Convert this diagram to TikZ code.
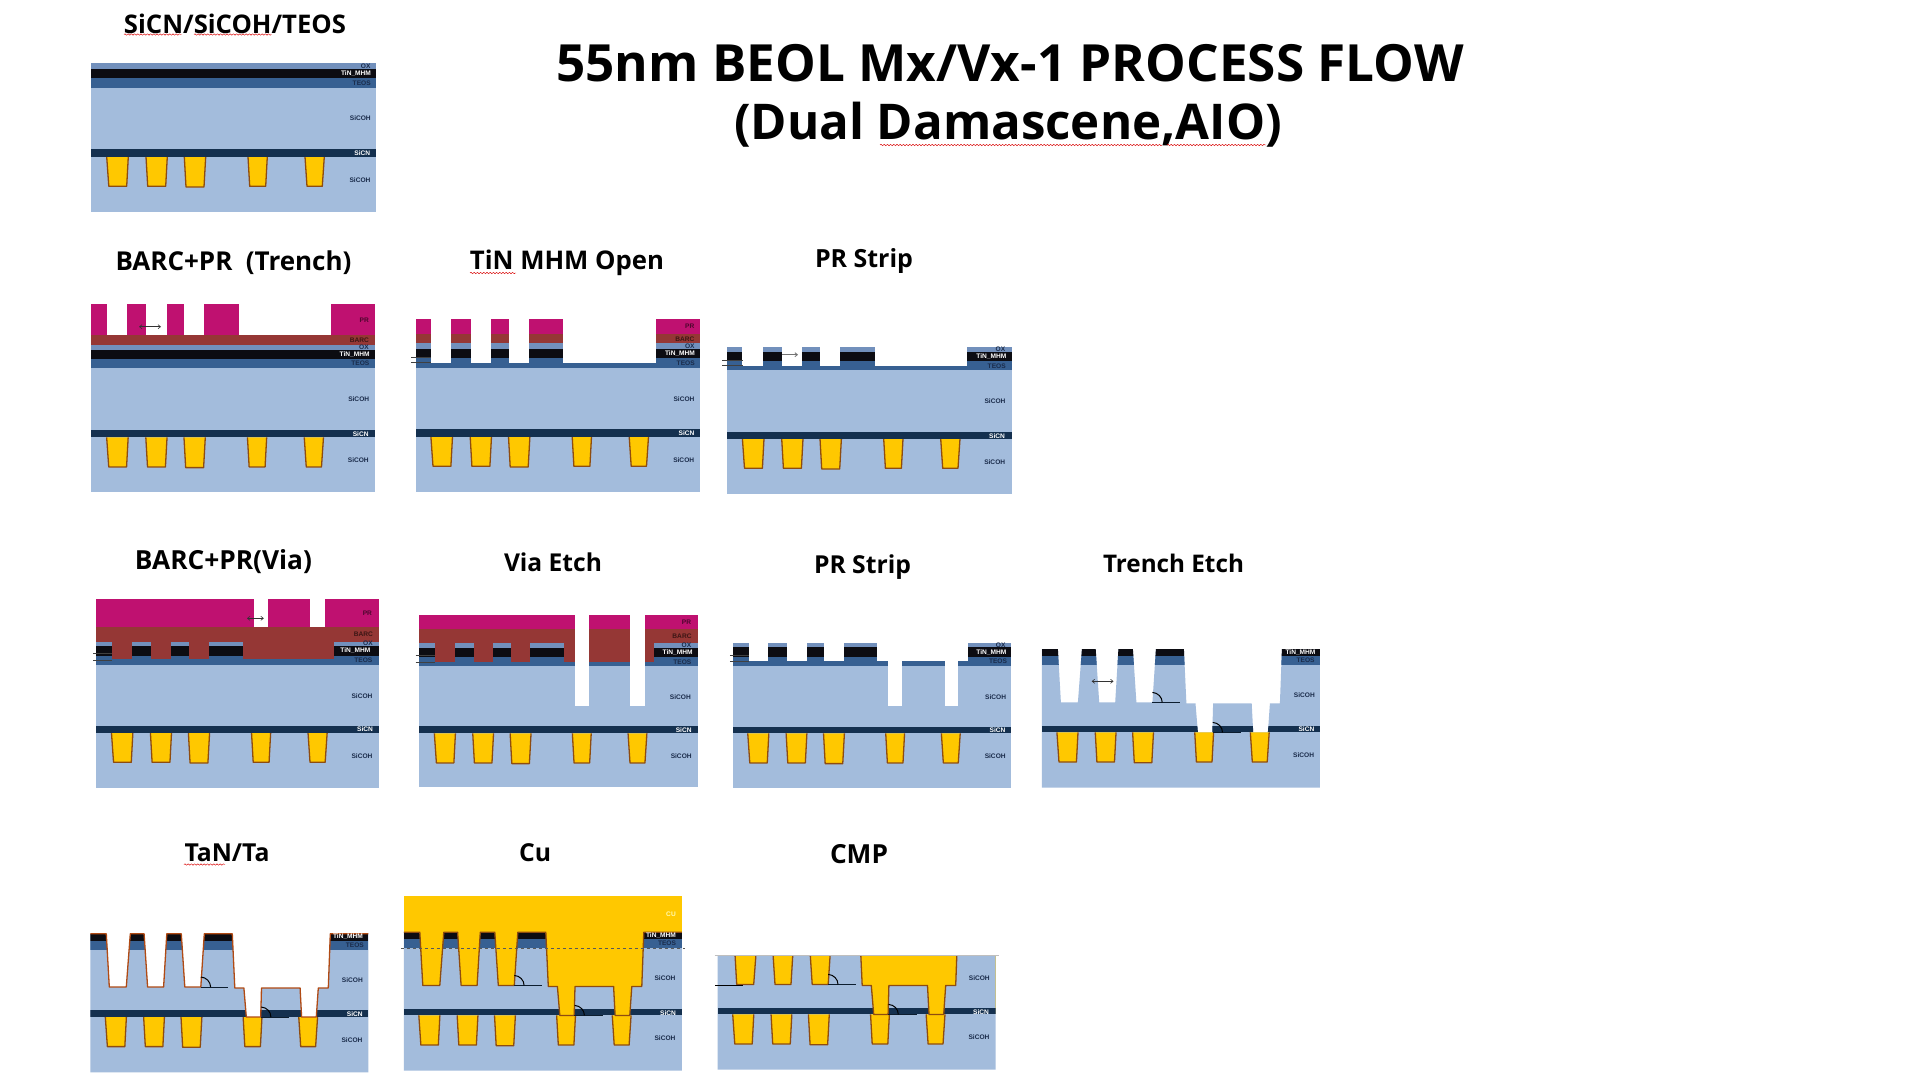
\documentclass[tikz,border=0pt]{standalone}
\usepackage{fontspec}
\setmainfont{Open Sans}[BoldFont={Open Sans Bold}]
\newfontfamily\lblfont{Liberation Sans}
\usetikzlibrary{decorations.pathmorphing,arrows.meta}
\definecolor{csicoh}{HTML}{A3BCDC}
\definecolor{csicn}{HTML}{14304F}
\definecolor{cteos}{HTML}{376092}
\definecolor{cox}{HTML}{7290BC}
\definecolor{ctin}{HTML}{0C0C12}
\definecolor{cpr}{HTML}{BF1170}
\definecolor{cbarc}{HTML}{953735}
\definecolor{ccu}{HTML}{FFC800}
\definecolor{cedge}{HTML}{8E4C10}
\definecolor{ctan}{HTML}{B04A14}
\definecolor{ctxt}{HTML}{1A2B4A}
\newcount\labn
\newcommand{\R}[5]{\fill[#1] (#2,#3) rectangle (#4,#5);}
\newcommand{\lab}[4]{\global\advance\labn by 1\node[lbl,text=#3] (lab\the\labn) at (#1,#2) {#4};}
\newcommand{\lsic}[2]{\lab{#1}{#2}{ctxt}{SiCOH}}
\newcommand{\lsin}[2]{\lab{#1}{#2}{white}{SiCN}}
\newcommand{\lteos}[2]{\lab{#1}{#2}{ctxt}{TEOS}}
\newcommand{\ltin}[2]{\lab{#1}{#2}{white}{TiN\_MHM}}
\newcommand{\lox}[2]{\lab{#1}{#2}{ctxt}{OX}}
\newcommand{\lpr}[2]{\lab{#1}{#2}{black!60!cpr}{PR}}
\newcommand{\lbarc}[2]{\lab{#1}{#2}{black!60!cbarc}{BARC}}
\newcommand{\ttl}[5]{\node[ttlnode] (#1) at (#2,#3) {\resizebox{#4pt}{!}{\bfseries #5}};}
\newcommand{\squig}[3]{\draw[squiggle] (#1,#3) -- (#2,#3);}
% five buried metal lines: x origin, y of the SiCN bottom, panel width
\newcommand{\onemetal}[5]{\filldraw[metal] (#1,0) -- (#3,#5) -- (#4,#5) -- (#2,0);}
\newcommand{\metals}[3]{\begin{scope}[shift={(#1,#2)},xscale=#3/285]
\onemetal{15.4}{37}{17.5}{35.4}{29.6}
\onemetal{54.7}{76}{56.4}{74.4}{29.6}
\onemetal{93}{114.4}{94.7}{112.7}{30.3}
\onemetal{156.7}{176}{158.4}{174.4}{29.6}
\onemetal{213.7}{233}{215.7}{231}{29.6}
\end{scope}}
% etched top profile shared by the last panels (local: y=0 is the SiCN top)
\newcommand{\prof}{(0,-76.5) -- (16,-76.5) -- (19,-23.3) -- (36,-23.3) -- (40,-76.5) -- (53.8,-76.5) -- (57.3,-23.3) -- (73.3,-23.3) -- (76.5,-76.5) -- (91,-76.5) -- (94.5,-23.3) -- (110.5,-23.3) -- (114,-76.5) -- (142,-76.5) -- (144.5,-22.3) -- (153.6,-22.3) -- (156,6.7) -- (170.4,6.7) -- (171.2,-22.3) -- (209.8,-22.3) -- (211.3,6.7) -- (226,6.7) -- (228,-22.3) -- (238,-22.3) -- (240,-76.5) -- (278,-76.5)}
\newcommand{\profbody}{%
\fill[csicoh] \prof -- (278,62) -- (0,62) -- cycle;
\metals{0}{6.7}{278}
\begin{scope}
\clip \prof -- (278,62) -- (0,62) -- cycle;
\R{ctin}{0}{-76.5}{278}{-69.7}
\R{cteos}{0}{-69.7}{278}{-60.7}
\R{csicn}{0}{0}{278}{6.7}
\end{scope}}
\newcommand{\angles}{%
\draw[mark line] (110.5,-23.3) -- (137.8,-23.3);
\draw[mark arc] (110.5,-33.3) .. controls (116,-33) and (120.3,-28.5) .. (120.3,-23.3);
\draw[mark line] (170.6,6.7) -- (199,6.7);
\draw[mark arc] (170.8,-3.3) .. controls (176.5,-3) and (180.6,1.5) .. (180.6,6.7);}
\tikzset{
 lbl/.style={font=\lblfont\bfseries\fontsize{6.6}{7}\selectfont,inner sep=0pt},
 ttlnode/.style={inner sep=0pt,text=black},
 squiggle/.style={draw=red!85!black,line width=.45pt,decorate,decoration={snake,amplitude=.7pt,segment length=3.2pt}},
 metal/.style={fill=ccu,draw=cedge,line width=1.3pt,line join=round},
 tick line/.style={draw=black!75,line width=.6pt},
 dim arrow/.style={draw=black!80,line width=.6pt,{Straight Barb[length=2.5pt,width=4pt]}-{Straight Barb[length=2.5pt,width=4pt]}},
 one arrow/.style={draw=black!55,line width=.8pt,-{Straight Barb[length=2.5pt,width=4pt]}},
 mark line/.style={draw=csicn!60!black,line width=1pt},
 mark arc/.style={draw=black,line width=1pt},
 tan line/.style={draw=ctan,line width=1.3pt,line join=round},
}
\begin{document}
\begin{tikzpicture}[x=1pt,y=-1pt]
\useasboundingbox (0,0) rectangle (1928,1079);
\fill[white] (0,0) rectangle (1928,1079);

% ---- titles
\ttl{tMain}{1010}{63}{907}{55nm BEOL Mx/Vx-1 PROCESS FLOW}
\ttl{tSub}{1008}{124.5}{548}{(Dual Damascene,AIO)}
\ttl{t1}{235}{24}{222}{SiCN/SiCOH/TEOS}
\ttl{t2}{233.5}{262.5}{236}{BARC+PR\ \ (Trench)}
\ttl{t3}{567}{263}{194}{TiN MHM Open}
\ttl{t4}{864}{261}{98}{PR Strip}
\ttl{t5}{223.5}{562}{177}{BARC+PR(Via)}
\ttl{t6}{553}{562}{98}{Via Etch}
\ttl{t7}{862.5}{567}{97}{PR Strip}
\ttl{t8}{1173.5}{563}{141}{Trench Etch}
\ttl{t9}{227}{852.5}{85}{TaN/Ta}
\ttl{t10}{535}{852.5}{32}{Cu}
\ttl{t11}{859}{854}{58}{CMP}
\squig{124}{181.7}{34.5}
\squig{194}{271.7}{34.5}
\squig{470}{516}{273}
\squig{880}{1162}{145}
\squig{1167}{1266}{145}
\squig{184}{225}{864.5}

\begin{scope}[shift={(0,1)}]
% ---- panel 1
\R{csicoh}{91.3}{86.7}{376}{210.7}
\metals{91.3}{155.7}{285}
\R{cox}{91.3}{62.2}{376}{67.7}
\R{ctin}{91.3}{67.7}{376}{77.3}
\R{cteos}{91.3}{77.3}{376}{86.7}
\R{csicn}{91.3}{148.3}{376}{155.7}
\lox{365.7}{65}\ltin{356}{72.7}\lteos{361.7}{82.3}\lsic{360.3}{117.3}\lsin{362.3}{152.3}\lsic{360}{178.7}

% ---- panel 2: BARC+PR (Trench)
\R{csicoh}{91.3}{367.3}{375}{491}
\metals{91.3}{436.3}{284}
\foreach \a/\b in {91.3/107,127.3/146.3,166.7/184,204.3/238.7,330.7/375}{\R{cpr}{\a}{303.3}{\b}{334.3}}
\R{cbarc}{91.3}{334.3}{375}{343.7}
\R{cox}{91.3}{343.7}{375}{348.7}
\R{ctin}{91.3}{348.7}{375}{358}
\R{cteos}{91.3}{358}{375}{367.3}
\R{csicn}{91.3}{429}{375}{436.3}
\coordinate (a2l) at (139,325.7); \coordinate (a2r) at (161,325.7);
\draw[dim arrow] (a2l) -- (a2r);
\lpr{364.3}{319}\lbarc{359.3}{339}\lox{364}{346}\ltin{354.7}{353.3}\lteos{360.3}{362.7}\lsic{358.7}{398.3}\lsin{360.7}{432.7}\lsic{358.3}{459}

% ---- panel 3: TiN MHM Open
\R{csicoh}{415.5}{366.7}{700.4}{491.3}
\metals{415.5}{435.7}{285}
\R{cpr}{415.5}{317.7}{700.4}{333.3}
\R{cbarc}{415.5}{333.3}{700.4}{342.3}
\R{cox}{415.5}{342.3}{700.4}{347.7}
\R{ctin}{415.5}{347.7}{700.4}{357.3}
\R{cteos}{415.5}{357.3}{700.4}{366.7}
\R{csicn}{415.5}{428.3}{700.4}{435.7}
\foreach \a/\b in {431.4/451.4,471/491,509/529,563.3/655.5}{\R{white}{\a}{317}{\b}{362}}
\coordinate (t3a) at (411.4,356); \coordinate (t3b) at (431.4,356);
\coordinate (t3c) at (411.4,361.7); \coordinate (t3d) at (431.4,361.7);
\draw[tick line] (t3a) -- (t3b); \draw[tick line] (t3c) -- (t3d);
\lpr{689.8}{325.7}\lbarc{684.9}{338.3}\lox{689.8}{345}\ltin{680}{352.7}\lteos{685.7}{362}\lsic{684}{397.7}\lsin{686.5}{432.3}\lsic{683.7}{459}

% ---- panel 4: PR Strip
\R{csicoh}{727}{369}{1011.6}{493.3}
\metals{727}{437.7}{285}
\R{cox}{727}{345.7}{1011.6}{350.7}
\R{ctin}{727}{350.7}{1011.6}{360}
\R{cteos}{727}{360}{1011.6}{369}
\R{csicn}{727}{431}{1011.6}{437.7}
\foreach \a/\b in {742.4/762.9,782/802.4,820/840.4,874.7/967}{\R{white}{\a}{345}{\b}{364.7}}
\coordinate (t4a) at (722.4,359); \coordinate (t4b) at (742.8,359);
\coordinate (t4c) at (722.4,364.7); \coordinate (t4d) at (742.8,364.7);
\draw[tick line] (t4a) -- (t4b); \draw[tick line] (t4c) -- (t4d);
\coordinate (a4l) at (782,353.7); \coordinate (a4r) at (798,353.7);
\draw[one arrow] (a4l) -- (a4r);
\lox{1000.4}{348.3}\ltin{991.4}{355.3}\lteos{996.7}{365}\lsic{995}{400.3}\lsin{997}{434.7}\lsic{994.7}{461.3}

% ---- panel 5: BARC+PR(Via)
\R{csicoh}{96.2}{663.7}{378.7}{787.3}
\metals{96.2}{731.7}{282.5}
\R{cpr}{96.2}{598}{378.7}{626}
\R{white}{253.7}{597}{268.2}{626}
\R{white}{310.4}{597}{324.9}{626}
\R{cbarc}{96.2}{626}{378.7}{658.3}
\R{cteos}{96.2}{654.7}{378.7}{663.7}
\R{cbarc}{112.3}{640}{132}{658.3}
\R{cbarc}{151.3}{640}{171.4}{658.3}
\R{cbarc}{188.7}{640}{208.7}{658.3}
\R{cbarc}{242.9}{640}{334.1}{658.3}
\foreach \a/\b in {96.2/112.3,132/151.3,171.4/188.7,208.7/242.9,334.1/378.7}{\R{cox}{\a}{640.7}{\b}{645.3}\R{ctin}{\a}{645.3}{\b}{654.7}}
\R{csicn}{96.2}{725}{378.7}{731.7}
\coordinate (t5a) at (93,652.7); \coordinate (t5b) at (112.3,652.7);
\coordinate (t5c) at (93,659.3); \coordinate (t5d) at (112.3,659.3);
\draw[tick line] (t5a) -- (t5b); \draw[tick line] (t5c) -- (t5d);
\coordinate (a5l) at (247,617.3); \coordinate (a5r) at (263.8,617.3);
\draw[dim arrow] (a5l) -- (a5r);
\lpr{367.4}{612.3}\lbarc{363.4}{633.7}\lox{368}{642.7}\ltin{355.4}{650}\lteos{363.4}{659.3}\lsic{362}{694.7}\lsin{365}{728.3}\lsic{362}{755.3}

% ---- panel 6: Via Etch
\R{csicoh}{419.3}{665.3}{697.7}{786.3}
\metals{419.3}{732.3}{278.4}
\R{cpr}{419.3}{614.3}{697.7}{627.7}
\R{cbarc}{419.3}{627.7}{697.7}{660.7}
\R{cteos}{419.3}{656}{697.7}{665.3}
\R{cbarc}{435}{642}{454.7}{660.7}
\R{cbarc}{473.5}{642}{493.2}{660.7}
\R{cbarc}{510.5}{642}{530.2}{660.7}
\R{cbarc}{564}{642}{654}{660.7}
\foreach \a/\b in {419.3/435,454.7/473.5,493.2/510.5,530.2/564,654/697.7}{\R{cox}{\a}{642.3}{\b}{647.3}\R{ctin}{\a}{647.3}{\b}{656}}
\R{csicn}{419.3}{725.3}{697.7}{732.3}
\R{white}{575.2}{613.5}{588.8}{705}
\R{white}{630.2}{613.5}{644.7}{705}
\coordinate (t6a) at (415.6,654.7); \coordinate (t6b) at (435,654.7);
\coordinate (t6c) at (415.6,661); \coordinate (t6d) at (435,661);
\draw[tick line] (t6a) -- (t6b); \draw[tick line] (t6c) -- (t6d);
\lpr{686.5}{621.3}\lbarc{682}{635.3}\lox{686.5}{644.7}\ltin{677.6}{651.7}\lteos{682.4}{661}\lsic{680.4}{695.7}\lsin{683.7}{729}\lsic{681.2}{755.3}

% ---- panel 7: PR Strip
\R{csicoh}{732.7}{665}{1011}{787.3}
\metals{732.7}{732.3}{278.3}
\R{cox}{732.7}{641.7}{1011}{646.3}
\R{ctin}{732.7}{646.3}{1011}{656}
\R{cteos}{732.7}{656}{1011}{665}
\R{csicn}{732.7}{725.7}{1011}{732.3}
\foreach \a/\b in {748.5/767.8,786.8/806.6,823.6/843.8,877.4/967.5}{\R{white}{\a}{641}{\b}{660.3}}
\R{white}{888.4}{660}{901.9}{705.3}
\R{white}{944.6}{660}{958}{705.3}
\coordinate (t7a) at (729.9,654.3); \coordinate (t7b) at (748.5,654.3);
\coordinate (t7c) at (729.9,660.7); \coordinate (t7d) at (748.5,660.7);
\draw[tick line] (t7a) -- (t7b); \draw[tick line] (t7c) -- (t7d);
\lox{1000.7}{644.3}\ltin{991.3}{651.3}\lteos{998}{660.7}\lsic{995.6}{695.7}\lsin{997.6}{729}\lsic{995.2}{755.3}

% ---- panel 8: Trench Etch
\begin{scope}[shift={(1041.9,724.7)}]
\profbody
\angles
\coordinate (a8l) at (49.8,-44.4); \coordinate (a8r) at (71.6,-44.4);
\draw[dim arrow] (a8l) -- (a8r);
\end{scope}
\ltin{1300.5}{651.7}\lteos{1305.6}{659.7}\lsic{1304.4}{694.3}\lsin{1306.4}{728}\lsic{1303.6}{753.7}

% ---- panel 9: TaN/Ta
\begin{scope}[shift={(90.3,1009.3)}]
\profbody
\draw[tan line] \prof;
\angles
\end{scope}
\ltin{348}{936}\lteos{354.8}{944.7}\lsic{352.4}{979.3}\lsin{354.8}{1013}\lsic{352}{1039.3}

% ---- panel 10: Cu
\begin{scope}[shift={(403.8,1007.7)}]
\R{ccu}{0}{-113}{278}{6.7}
\profbody
\draw[tan line,draw=cedge] \prof;
\angles
\coordinate (d10a) at (-3,-60.7); \coordinate (d10b) at (281,-60.7);
\draw[dashed,draw=black!65,line width=.6pt] (d10a) -- (d10b);
\end{scope}
\lab{671}{913.3}{yellow!30}{CU}
\ltin{661}{935}\lteos{667}{942}\lsic{665}{977}\lsin{668}{1011.7}\lsic{665}{1036.7}

% ---- panel 11: CMP
\begin{scope}[shift={(717.7,1006.7)}]
\begin{scope}
\clip (-1,-52.4) rectangle (279,63);
\R{ccu}{0}{-113}{278}{6.7}
\profbody
\draw[tan line,draw=cedge] \prof;
\end{scope}
\angles
\coordinate (t11a) at (-2.7,-22.4); \coordinate (t11b) at (25,-22.4);
\draw[mark line,draw=black] (t11a) -- (t11b);
\coordinate (d11a) at (-3,-52.4); \coordinate (d11b) at (281,-52.4);
\draw[draw=black!25,line width=.5pt] (d11a) -- (d11b);
\end{scope}
\lsic{979.3}{977}\lsin{981}{1010.7}\lsic{979}{1036}
\end{scope}
\end{tikzpicture}
\end{document}
